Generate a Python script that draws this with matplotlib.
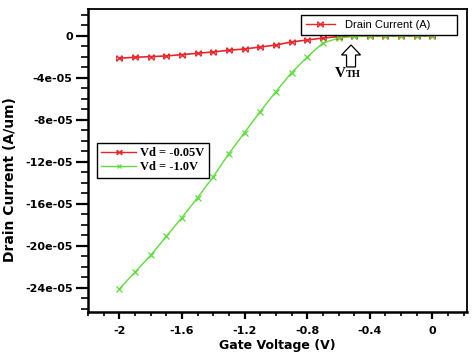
import numpy as np
import matplotlib
matplotlib.use("Agg")
import matplotlib.pyplot as plt
from matplotlib.lines import Line2D
from matplotlib.path import Path
from matplotlib.patches import Polygon
from matplotlib.ticker import FixedLocator, MultipleLocator

# gate voltage sweep (V)
vg = [-2.0, -1.9, -1.8, -1.7, -1.6, -1.5, -1.4, -1.3, -1.2, -1.1, -1.0,
      -0.9, -0.8, -0.7, -0.6, -0.5, -0.4, -0.3, -0.2, -0.1, 0.0]
# drain current, in units of 1e-05 A/um
id_low = [-2.12, -2.03, -1.97, -1.90, -1.78, -1.65, -1.52, -1.36, -1.24, -1.05, -0.86,
          -0.57, -0.38, -0.20, -0.06, -0.01, 0.0, 0.0, 0.0, 0.0, 0.0]
id_high = [-24.1, -22.5, -20.9, -19.1, -17.3, -15.4, -13.4, -11.2, -9.2, -7.2, -5.3,
           -3.5, -2.0, -0.67, -0.2, -0.05, -0.01, 0.0, 0.0, 0.0, 0.0]
series_labels = ["Vd = -0.05V", "Vd = -1.0V"]

ytick_vals = [0, -4, -8, -12, -16, -20, -24]
ytick_labels = ["0", "-4e-05", "-8e-05", "-12e-05", "-16e-05", "-20e-05", "-24e-05"]
xtick_vals = [-2.0, -1.6, -1.2, -0.8, -0.4, 0.0]
xtick_labels = ["-2", "-1.6", "-1.2", "-0.8", "-0.4", "0"]

vth = -0.52  # where the threshold arrow points

RED = "#e8262a"
GREEN = "#5fdc3c"

# bow-tie marker: an x with short vertical bars on each side
bowtie = Path([(-1, -1), (1, 1), (-1, 1), (1, -1), (-1, -1), (-1, 1), (1, -1), (1, 1)],
              [Path.MOVETO, Path.LINETO, Path.MOVETO, Path.LINETO,
               Path.MOVETO, Path.LINETO, Path.MOVETO, Path.LINETO])

fig = plt.figure(figsize=(4.74, 3.6), dpi=100)
ax = fig.add_axes([0.1857, 0.1333, 0.7993, 0.8417])

y_low = np.array(id_low) * 1e-5
y_high = np.array(id_high) * 1e-5
ax.plot(vg, y_low, color=RED, lw=1.2, marker=bowtie, ms=4, mew=0.9)
ax.plot(vg, y_high, color=GREEN, lw=1.0, marker="x", ms=4, mew=0.9)

ax.set_xlim(-2.2, 0.22)
ax.set_ylim(-26.3e-5, 2.57e-5)

ax.xaxis.set_major_locator(FixedLocator(xtick_vals))
ax.set_xticklabels(xtick_labels)
ax.xaxis.set_minor_locator(MultipleLocator(0.1))
ax.yaxis.set_major_locator(FixedLocator([v * 1e-5 for v in ytick_vals]))
ax.set_yticklabels(ytick_labels)
ax.yaxis.set_minor_locator(MultipleLocator(1e-5))

ax.tick_params(axis="x", which="major", direction="out", length=5, width=1.6,
               labelsize=8, pad=5)
ax.tick_params(axis="x", which="minor", direction="out", length=3, width=1.2)
ax.tick_params(axis="y", which="major", direction="out", length=9, width=1.6,
               labelsize=8, pad=2)
ax.tick_params(axis="y", which="minor", direction="out", length=5, width=1.2)
for lab in ax.get_xticklabels() + ax.get_yticklabels():
    lab.set_fontweight("bold")

for side in ["left", "bottom"]:
    ax.spines[side].set_linewidth(1.8)
for side in ["top", "right"]:
    ax.spines[side].set_linewidth(1.3)

ax.set_xlabel("Gate Voltage (V)", fontsize=9, fontweight="bold", labelpad=2)
ax.set_ylabel("Drain Current (A/um)", fontsize=10, fontweight="bold")
ax.yaxis.set_label_coords(-0.187, 0.436)

# top legend (generic)
h_top = [Line2D([], [], color=RED, lw=1.0, marker=bowtie, ms=4, mew=0.8,
                markevery=[0, -1])]
leg1 = ax.legend(h_top, ["Drain Current (A)       "], loc="upper left",
                 bbox_to_anchor=(0.562, 0.980), borderaxespad=0, fancybox=False,
                 edgecolor="black", framealpha=1, handlelength=2.6,
                 handletextpad=0.9, borderpad=0.45,
                 prop={"family": "Liberation Sans", "size": 8})
leg1.get_frame().set_linewidth(1.0)
ax.add_artist(leg1)

# series legend
h_ser = [Line2D([], [], color=RED, lw=1.0, marker=bowtie, ms=3.5, mew=0.8),
         Line2D([], [], color=GREEN, lw=1.0, marker="x", ms=3.5, mew=0.8)]
leg2 = ax.legend(h_ser, series_labels, loc="upper left",
                 bbox_to_anchor=(0.024, 0.558), borderaxespad=0, fancybox=False,
                 edgecolor="black", framealpha=1, handlelength=2.8,
                 handletextpad=0.3, borderpad=0.35, labelspacing=0.15,
                 prop={"family": "Liberation Serif", "weight": "bold", "size": 9})
leg2.get_frame().set_linewidth(1.0)

# threshold voltage marker: hollow block arrow pointing up
hw, tw = 0.0605, 0.0287          # half widths of head / tail (V)
tip, neck, base = -0.86e-5, -1.81e-5, -2.95e-5
arrow = Polygon([(vth, tip), (vth + hw, neck), (vth + tw, neck), (vth + tw, base),
                 (vth - tw, base), (vth - tw, neck), (vth - hw, neck)],
                closed=True, fc="white", ec="black", lw=0.9, zorder=4)
ax.add_patch(arrow)
ax.text(vth - 0.035, -3.9e-5, "V", ha="right", va="baseline", fontsize=11,
        fontweight="bold", family="Liberation Serif")
ax.text(vth - 0.035, -3.9e-5, "TH", ha="left", va="baseline", fontsize=7.5,
        fontweight="bold", family="Liberation Serif")

fig.savefig("out.png", dpi=100)
